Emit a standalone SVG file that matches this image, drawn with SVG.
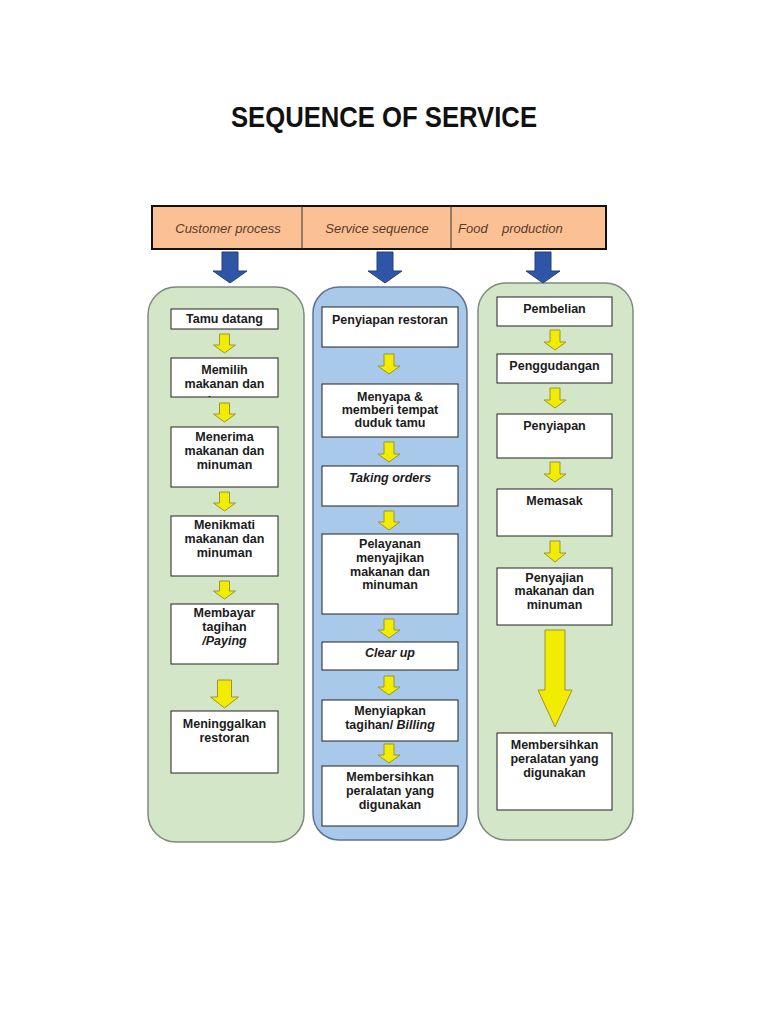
<svg xmlns="http://www.w3.org/2000/svg" width="768" height="1024" viewBox="0 0 768 1024">
<style>
.t{font-family:"Liberation Sans",Arial,sans-serif;font-weight:bold;font-size:12.5px;fill:#1c1c1c;text-anchor:middle}
.i{font-style:italic}
.h{font-family:"Liberation Sans",Arial,sans-serif;font-style:italic;font-size:13px;fill:#5a3a2c}
.box{fill:#fff;stroke:#222;stroke-width:1}
.ya{fill:#f2ec00;stroke:#9c9430;stroke-width:1}
.ba{fill:#2f56a6;stroke:#23417f;stroke-width:1}
.pg{fill:#d3e7c8;stroke:#7d8a7d;stroke-width:1.5}
.pb{fill:#a8c9e9;stroke:#5f7390;stroke-width:1.5}
</style>
<defs>
<clipPath id="cm"><rect x="171" y="358" width="107" height="39"/></clipPath>
</defs>
<rect width="768" height="1024" fill="#fff"/>
<text x="384" y="127" font-family="'Liberation Sans',Arial,sans-serif" font-weight="bold" font-size="30" text-anchor="middle" textLength="306" lengthAdjust="spacingAndGlyphs" fill="#111">SEQUENCE OF SERVICE</text>

<g id="header">
<rect x="152" y="206" width="454" height="43" fill="#fbc194" stroke="#111" stroke-width="2"/>
<line x1="302" y1="206" x2="302" y2="249" stroke="#333" stroke-width="1"/>
<line x1="451" y1="206" x2="451" y2="249" stroke="#333" stroke-width="1"/>
<text class="h" x="228" y="233" text-anchor="middle">Customer process</text>
<text class="h" x="377" y="233" text-anchor="middle">Service sequence</text>
<text class="h" y="233"><tspan x="458">Food</tspan><tspan x="502">production</tspan></text>
</g>

<g id="panels">
<rect id="panel-customer" class="pg" x="148" y="287" width="156" height="555" rx="28"/>
<rect id="panel-service" class="pb" x="313" y="287" width="154" height="553" rx="26"/>
<rect id="panel-food" class="pg" x="478" y="283" width="155" height="557" rx="28"/>
</g>

<g id="connectors">
<polygon class="ba" points="222,252 238,252 238,271 247,271 230,283 213,271 222,271"/>
<polygon class="ba" points="377,252 393,252 393,271 402,271 385,283 368,271 377,271"/>
<polygon class="ba" points="535,252 551,252 551,271 560,271 543,283 526,271 535,271"/>

<polygon class="ya" points="219.5,334 229.5,334 229.5,345 235.5,345 224.5,353 213.5,345 219.5,345"/>
<polygon class="ya" points="219.5,403 229.5,403 229.5,414 235.5,414 224.5,422 213.5,414 219.5,414"/>
<polygon class="ya" points="219.5,492 229.5,492 229.5,503 235.5,503 224.5,511 213.5,503 219.5,503"/>
<polygon class="ya" points="219.5,581 229.5,581 229.5,591 235.5,591 224.5,599 213.5,591 219.5,591"/>
<polygon class="ya" points="217.5,680 231.5,680 231.5,697 238.5,697 224.5,708 210.5,697 217.5,697"/>

<polygon class="ya" points="384,354 394,354 394,366 400,366 389,374 378,366 384,366"/>
<polygon class="ya" points="384,442 394,442 394,454 400,454 389,462 378,454 384,454"/>
<polygon class="ya" points="384,511 394,511 394,522 400,522 389,530 378,522 384,522"/>
<polygon class="ya" points="384,619 394,619 394,630 400,630 389,638 378,630 384,630"/>
<polygon class="ya" points="384,676 394,676 394,687 400,687 389,695 378,687 384,687"/>
<polygon class="ya" points="384,744 394,744 394,755 400,755 389,763 378,755 384,755"/>

<polygon class="ya" points="550,330 560,330 560,342 566,342 555,350 544,342 550,342"/>
<polygon class="ya" points="550,388 560,388 560,400 566,400 555,408 544,400 550,400"/>
<polygon class="ya" points="550,462 560,462 560,474 566,474 555,482 544,474 550,474"/>
<polygon class="ya" points="550,541 560,541 560,553 566,553 555,562 544,553 550,553"/>
<polygon class="ya" points="545,630 565,630 565,690 572,690 555,727 538,690 545,690"/>
</g>

<g id="c1"><rect class="box" x="171" y="309" width="107" height="20"/><text class="t" x="224.5" y="323" font-size="10">Tamu datang</text></g>
<g id="c2"><rect class="box" x="171" y="358" width="107" height="39"/><text class="t" x="224.5" y="374">Memilih</text><text class="t" x="224.5" y="388">makanan dan</text><text class="t" x="224.5" y="405" clip-path="url(#cm)">minuman</text></g>
<g id="c3"><rect class="box" x="171" y="427" width="107" height="60"/><text class="t" x="224.5" y="441">Menerima</text><text class="t" x="224.5" y="455">makanan dan</text><text class="t" x="224.5" y="469">minuman</text></g>
<g id="c4"><rect class="box" x="171" y="516" width="107" height="60"/><text class="t" x="224.5" y="529">Menikmati</text><text class="t" x="224.5" y="543">makanan dan</text><text class="t" x="224.5" y="557">minuman</text></g>
<g id="c5"><rect class="box" x="171" y="604" width="107" height="60"/><text class="t" x="224.5" y="617">Membayar</text><text class="t" x="224.5" y="631">tagihan</text><text class="t i" x="224.5" y="645">/Paying</text></g>
<g id="c6"><rect class="box" x="171" y="711" width="107" height="62"/><text class="t" x="224.5" y="728">Meninggalkan</text><text class="t" x="224.5" y="742">restoran</text></g>

<g id="s1"><rect class="box" x="322" y="307" width="136" height="40"/><text class="t" x="390" y="324">Penyiapan restoran</text></g>
<g id="s2"><rect class="box" x="322" y="384" width="136" height="53"/><text class="t" x="390" y="401">Menyapa &amp;</text><text class="t" x="390" y="414">memberi tempat</text><text class="t" x="390" y="427">duduk tamu</text></g>
<g id="s3"><rect class="box" x="322" y="466" width="136" height="40"/><text class="t i" x="390" y="482">Taking orders</text></g>
<g id="s4"><rect class="box" x="322" y="534" width="136" height="80"/><text class="t" x="390" y="548">Pelayanan</text><text class="t" x="390" y="562">menyajikan</text><text class="t" x="390" y="576">makanan dan</text><text class="t" x="390" y="589">minuman</text></g>
<g id="s5"><rect class="box" x="322" y="642" width="136" height="28"/><text class="t i" x="390" y="657">Clear up</text></g>
<g id="s6"><rect class="box" x="322" y="700" width="136" height="41"/><text class="t" x="390" y="715">Menyiapkan</text><text class="t" x="390" y="729">tagihan/ <tspan class="i">Billing</tspan></text></g>
<g id="s7"><rect class="box" x="322" y="766" width="136" height="60"/><text class="t" x="390" y="781">Membersihkan</text><text class="t" x="390" y="795">peralatan yang</text><text class="t" x="390" y="809">digunakan</text></g>

<g id="f1"><rect class="box" x="497" y="297" width="115" height="29"/><text class="t" x="554.5" y="313">Pembelian</text></g>
<g id="f2"><rect class="box" x="497" y="354" width="115" height="29"/><text class="t" x="554.5" y="370">Penggudangan</text></g>
<g id="f3"><rect class="box" x="497" y="414" width="115" height="44"/><text class="t" x="554.5" y="430">Penyiapan</text></g>
<g id="f4"><rect class="box" x="497" y="489" width="115" height="47"/><text class="t" x="554.5" y="505">Memasak</text></g>
<g id="f5"><rect class="box" x="497" y="568" width="115" height="57"/><text class="t" x="554.5" y="582">Penyajian</text><text class="t" x="554.5" y="595">makanan dan</text><text class="t" x="554.5" y="609">minuman</text></g>
<g id="f6"><rect class="box" x="497" y="733" width="115" height="77"/><text class="t" x="554.5" y="749">Membersihkan</text><text class="t" x="554.5" y="763">peralatan yang</text><text class="t" x="554.5" y="777">digunakan</text></g>
</svg>
